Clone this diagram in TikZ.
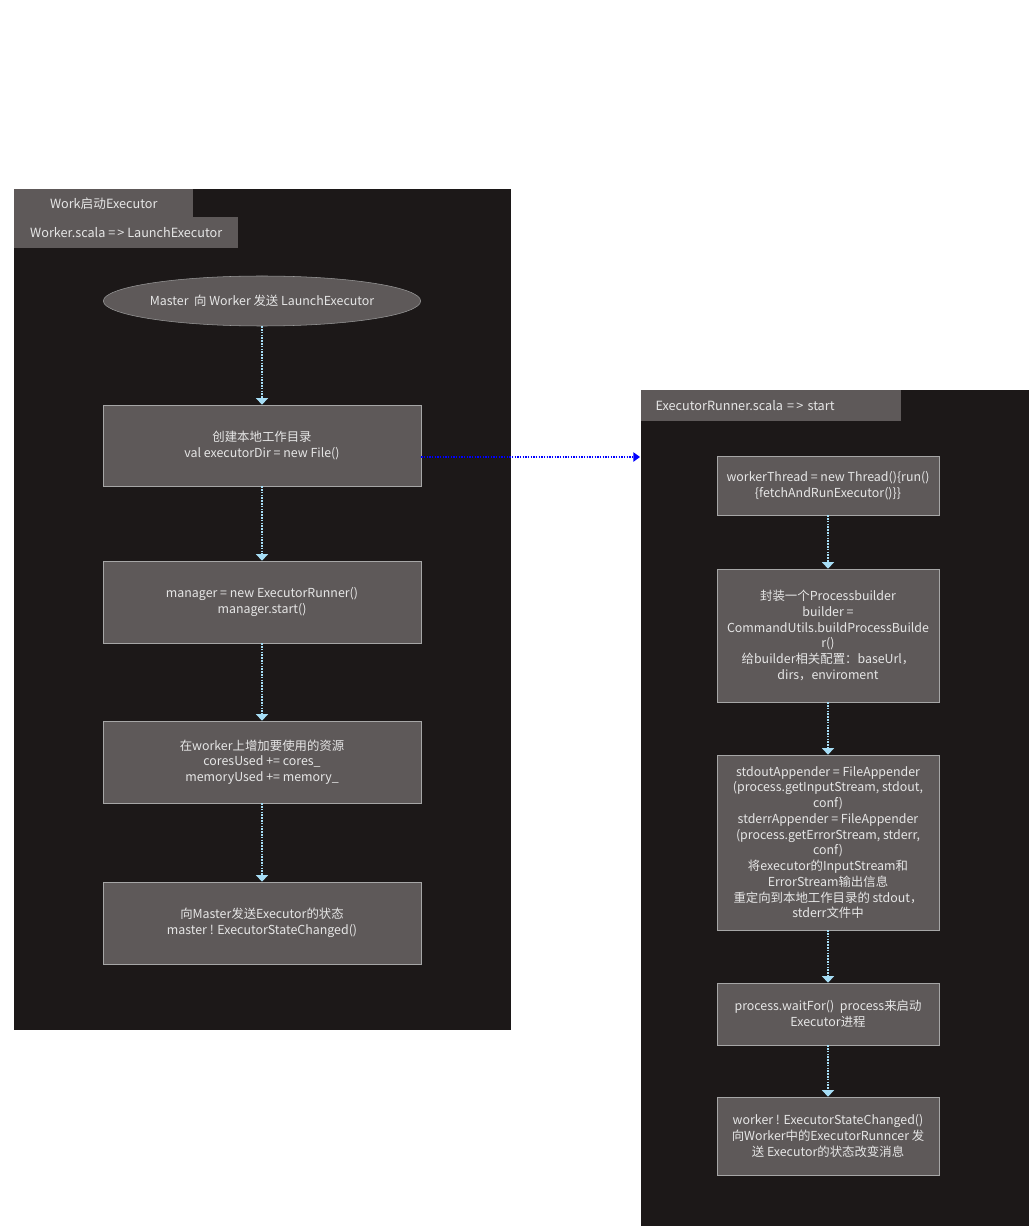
\documentclass[tikz,border=0pt]{standalone}
\usepackage{fontspec}
\setmainfont{Noto Sans CJK SC}
\usetikzlibrary{arrows.meta,shapes.geometric}
\definecolor{panel}{HTML}{1C1818}
\definecolor{boxf}{HTML}{5E5959}
\definecolor{txt}{HTML}{E6E6E6}
\definecolor{arr}{HTML}{A6DDF5}
\tikzset{
 bx/.style={draw=gray!70,fill=boxf,text=txt,font=\fontsize{9.3}{11.8}\selectfont,align=center,inner sep=0pt},
 hd/.style={fill=boxf,text=txt,font=\fontsize{9.5}{11}\selectfont,inner sep=0pt,anchor=north west},
 flow/.style={arr,densely dotted,line width=1.1pt,-{Triangle[width=9pt,length=5pt]}},
}
\begin{document}
\begin{tikzpicture}[x=0.75pt,y=-0.75pt]
\useasboundingbox (0,0) rectangle (1030,1226);
\fill[white] (0,0) rectangle (1030,1226);
% left panel
\fill[panel] (14,189) rectangle (511,1030);
\node[hd,minimum width=179*0.75pt,minimum height=28*0.75pt] (h1) at (14,189) {Work启动Executor};
\node[hd,minimum width=224*0.75pt,minimum height=31*0.75pt] (h2) at (14,217) {Worker.scala =\,> LaunchExecutor};
\node[bx,draw=gray!80,ellipse,minimum width=316*0.75pt,minimum height=50*0.75pt] (e) at (262,301) {Master\ \ 向 Worker 发送 LaunchExecutor};
\node[bx,minimum width=318*0.75pt,minimum height=81*0.75pt] (b1) at (262,445.5) {创建本地工作目录\\val executorDir = new File()};
\node[bx,minimum width=318*0.75pt,minimum height=82*0.75pt] (b2) at (262,602) {manager = new ExecutorRunner()\\manager.start()};
\node[bx,minimum width=318*0.75pt,minimum height=82*0.75pt] (b3) at (262,762) {在worker上增加要使用的资源\\coresUsed += cores\_\\memoryUsed += memory\_};
\node[bx,minimum width=318*0.75pt,minimum height=82*0.75pt] (b4) at (262,923) {向Master发送Executor的状态\\master ! ExecutorStateChanged()};
\draw[flow] (e) -- (b1);
\draw[flow] (b1) -- (b2);
\draw[flow] (b2) -- (b3);
\draw[flow] (b3) -- (b4);
% right panel
\fill[panel] (641,390) rectangle (1029,1226);
\node[hd,minimum width=260*0.75pt,minimum height=31*0.75pt,text width=250*0.75pt,align=left] (h3) at (641,390) {\hspace*{7pt}ExecutorRunner.scala =\,> start};
\coordinate (rp) at (640,457);
\draw[blue,densely dotted,line width=1pt,-{Triangle[width=7pt,length=5pt]}] (b1.east |- rp) -- (rp);
\node[bx,minimum width=222*0.75pt,minimum height=59*0.75pt] (r1) at (828,485.5) {workerThread = new Thread()\{run()\\\{fetchAndRunExecutor()\}\}};
\node[bx,minimum width=222*0.75pt,minimum height=133*0.75pt] (r2) at (828,635.5) {封装一个Processbuilder\\builder =\\CommandUtils.buildProcessBuilde\\r()\\给builder相关配置：baseUrl，\\dirs，enviroment};
\node[bx,minimum width=222*0.75pt,minimum height=175*0.75pt] (r3) at (828,842.5) {stdoutAppender = FileAppender\\(process.getInputStream, stdout,\\conf)\\stderrAppender = FileAppender\\(process.getErrorStream, stderr,\\conf)\\将executor的InputStream和\\ErrorStream输出信息\\重定向到本地工作目录的 stdout，\\stderr文件中};
\node[bx,minimum width=222*0.75pt,minimum height=62*0.75pt] (r4) at (828,1014) {process.waitFor()\ \ process来启动\\Executor进程};
\node[bx,minimum width=222*0.75pt,minimum height=78*0.75pt] (r5) at (828,1136) {worker ! ExecutorStateChanged()\\向Worker中的ExecutorRunncer 发\\送 Executor的状态改变消息};
\draw[flow] (r1) -- (r2);
\draw[flow] (r2) -- (r3);
\draw[flow] (r3) -- (r4);
\draw[flow] (r4) -- (r5);
\end{tikzpicture}
\end{document}
